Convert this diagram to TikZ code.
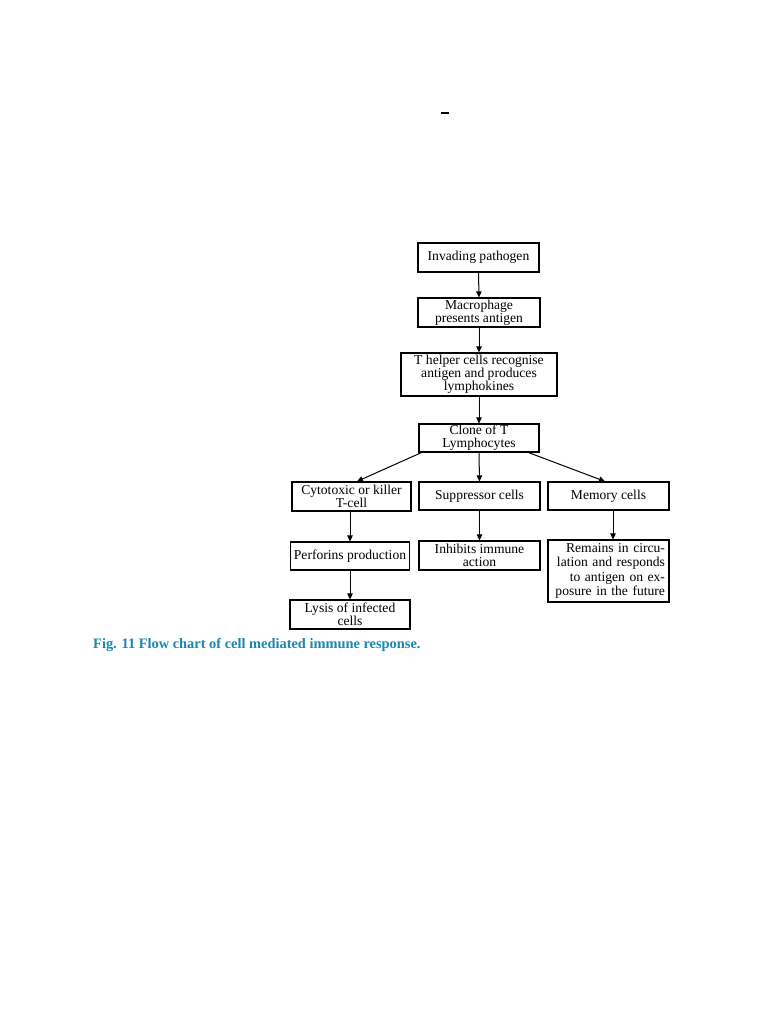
\documentclass[tikz,border=0pt]{standalone}
\usepackage{fontspec}
\setmainfont{Liberation Serif}
\usetikzlibrary{arrows.meta,calc}
\definecolor{captioncol}{RGB}{25,135,175}
\tikzset{
  box/.style={draw=black, line width=1.2pt, align=center, inner sep=1pt,
    font=\fontsize{13.6}{12.8}\selectfont},
  conn/.style={line width=1pt, -{Triangle[length=6pt,width=5.5pt]}},
}
\begin{document}
\begin{tikzpicture}[x=1pt,y=-1pt]
\useasboundingbox (0,0) rectangle (768,1024);
\fill[white] (0,0) rectangle (768,1024);
% stray mark at top
\draw[line width=1.2pt] (441,113) -- (449,113);

\node[box, minimum width=121pt, minimum height=29pt] (inv) at (478.5,257.5) {Invading pathogen};
\node[box, minimum width=122pt, minimum height=29pt] (mac) at (479,312.5) {Macrophage\\presents antigen};
\node[box, minimum width=156pt, minimum height=43pt] (th) at (479,374.5) {T helper cells recognise\\antigen and produces\\lymphokines};
\node[box, minimum width=120pt, minimum height=28pt] (clone) at (479,438) {Clone of T\\Lymphocytes};
\node[box, minimum width=119pt, minimum height=29pt] (cyt) at (351.5,496.5) {Cytotoxic or killer\\T-cell};
\node[box, minimum width=121pt, minimum height=28pt] (sup) at (479.5,496) {Suppressor cells};
\node[box, minimum width=121pt, minimum height=28pt] (mem) at (608.5,496) {Memory cells};
\node[box, minimum width=119pt, minimum height=28pt] (perf) at (350,556) {Perforins production};
\node[box, minimum width=121pt, minimum height=29pt] (inh) at (479.5,555.5) {Inhibits immune\\action};
\node[box, minimum width=121pt, minimum height=62pt, text width=113pt, inner xsep=4pt, align=right,
  font=\fontsize{13.6}{14.5}\selectfont] (rem) at (608.5,571) {Remains in circu-\\lation and responds\\to antigen on ex-\\posure in the future};
\node[box, minimum width=120pt, minimum height=29pt] (lys) at (350,614.5) {Lysis of infected\\cells};

\draw[conn] (inv.south) -- (mac.north);
\draw[conn] (mac.south) -- (th.north);
\draw[conn] (th.south) -- (clone.north);
\draw[conn] ($(clone.south west)+(3,0)$) -- ($(cyt.north)+(5.5,0)$);
\draw[conn] (clone.south) -- (sup.north);
\draw[conn] ($(clone.south east)+(-11,0)$) -- ($(mem.north)+(-3.5,0)$);
\draw[conn] ($(cyt.south)+(-1.5,0)$) -- (perf.north);
\draw[conn] (sup.south) -- (inh.north);
\draw[conn] ($(mem.south)+(4.5,0)$) -- ($(rem.north)+(4.5,0)$);
\draw[conn] (perf.south) -- (lys.north);

\node[anchor=west, inner sep=0pt, text=captioncol, font=\fontsize{14.4}{16}\selectfont\bfseries] (cap) at (93,645) {Fig. 11 Flow chart of cell mediated immune response.};
\end{tikzpicture}
\end{document}
